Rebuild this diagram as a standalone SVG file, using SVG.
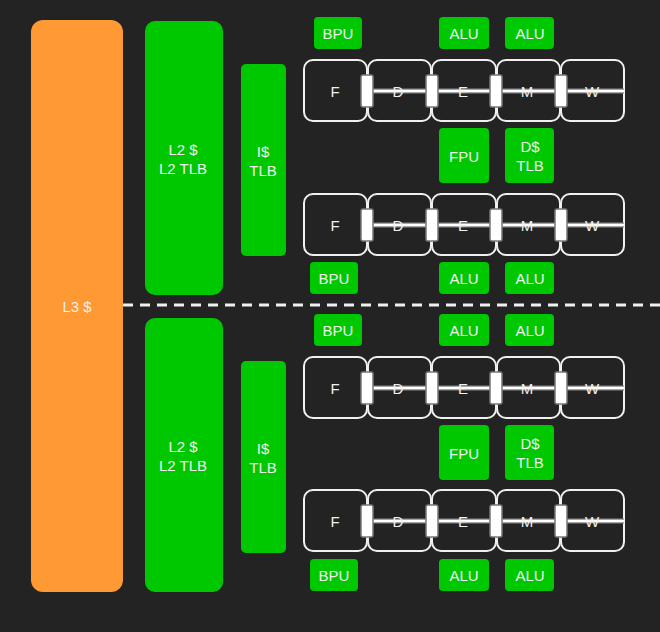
<svg xmlns="http://www.w3.org/2000/svg" width="660" height="632" viewBox="0 0 660 632">
<style>
text{font-family:"Liberation Sans",Arial,sans-serif;font-size:15px;fill:#f0f0f0;text-anchor:middle;dominant-baseline:central}
.g{fill:#00c800}
.cell{fill:none;stroke:#f0f0f0;stroke-width:2}
.latch{fill:#fff;stroke:#777;stroke-width:1.5}
.bus{stroke:#888;stroke-width:5}
.bus2{stroke:#fff;stroke-width:2.5}
</style>
<defs>
<g id="pipe">
<rect class="cell" x="304" y="0" width="63" height="61" rx="9"/>
<rect class="cell" x="368" y="0" width="63" height="61" rx="9"/>
<rect class="cell" x="432" y="0" width="64" height="61" rx="9"/>
<rect class="cell" x="497" y="0" width="63" height="61" rx="9"/>
<rect class="cell" x="561" y="0" width="63" height="61" rx="9"/>
<line class="bus" x1="366" y1="31" x2="624" y2="31"/>
<line class="bus2" x1="366" y1="31" x2="624" y2="31"/>
<text x="335" y="31">F</text><text x="398" y="31">D</text><text x="463" y="31">E</text><text x="527" y="31">M</text><text x="592" y="31">W</text>
<rect class="latch" x="361" y="15" width="12" height="32" rx="2"/>
<rect class="latch" x="426" y="15" width="12" height="32" rx="2"/>
<rect class="latch" x="490" y="15" width="12" height="32" rx="2"/>
<rect class="latch" x="555" y="15" width="12" height="32" rx="2"/>
</g>
</defs>
<rect width="660" height="632" fill="#232323"/>
<g id="L3"><rect x="31" y="20" width="92" height="572" rx="12" fill="#ff9933"/><text x="77" y="306">L3 $</text></g>
<g id="connectors"><line x1="123" y1="305" x2="660" y2="305" stroke="#f0f0f0" stroke-width="3" stroke-dasharray="10,7"/></g>
<g id="core1">
<g id="L2a"><rect class="g" x="145" y="21" width="78" height="274" rx="10"/><text x="183" y="149">L2 $</text><text x="183" y="168">L2 TLB</text></g>
<g id="Ia"><rect class="g" x="241" y="64" width="45" height="192" rx="5"/><text x="263" y="151">I$</text><text x="263" y="170">TLB</text></g>
<g id="bpu1"><rect class="g" x="314" y="17" width="48" height="32" rx="4"/><text x="338" y="33">BPU</text></g>
<g id="alu1"><rect class="g" x="439" y="17" width="50" height="32" rx="4"/><text x="464" y="33">ALU</text></g>
<g id="alu2"><rect class="g" x="505" y="17" width="49" height="32" rx="4"/><text x="530" y="33">ALU</text></g>
<g id="pipe1"><use href="#pipe" y="60"/></g>
<g id="fpu1"><rect class="g" x="439" y="128" width="50" height="55" rx="4"/><text x="464" y="156">FPU</text></g>
<g id="dtlb1"><rect class="g" x="505" y="128" width="49" height="55" rx="4"/><text x="530" y="146">D$</text><text x="530" y="165">TLB</text></g>
<g id="pipe2"><use href="#pipe" y="194"/></g>
<g id="bpu2"><rect class="g" x="310" y="262" width="48" height="32" rx="4"/><text x="334" y="278">BPU</text></g>
<g id="alu3"><rect class="g" x="439" y="262" width="50" height="32" rx="4"/><text x="464" y="278">ALU</text></g>
<g id="alu4"><rect class="g" x="505" y="262" width="49" height="32" rx="4"/><text x="530" y="278">ALU</text></g>
</g>
<g id="core2">
<g id="L2b"><rect class="g" x="145" y="318" width="78" height="274" rx="10"/><text x="183" y="446">L2 $</text><text x="183" y="465">L2 TLB</text></g>
<g id="Ib"><rect class="g" x="241" y="361" width="45" height="192" rx="5"/><text x="263" y="448">I$</text><text x="263" y="467">TLB</text></g>
<g id="bpu3"><rect class="g" x="314" y="314" width="48" height="32" rx="4"/><text x="338" y="330">BPU</text></g>
<g id="alu5"><rect class="g" x="439" y="314" width="50" height="32" rx="4"/><text x="464" y="330">ALU</text></g>
<g id="alu6"><rect class="g" x="505" y="314" width="49" height="32" rx="4"/><text x="530" y="330">ALU</text></g>
<g id="pipe3"><use href="#pipe" y="357"/></g>
<g id="fpu2"><rect class="g" x="439" y="425" width="50" height="55" rx="4"/><text x="464" y="453">FPU</text></g>
<g id="dtlb2"><rect class="g" x="505" y="425" width="49" height="55" rx="4"/><text x="530" y="443">D$</text><text x="530" y="462">TLB</text></g>
<g id="pipe4"><use href="#pipe" y="490"/></g>
<g id="bpu4"><rect class="g" x="310" y="559" width="48" height="32" rx="4"/><text x="334" y="575">BPU</text></g>
<g id="alu7"><rect class="g" x="439" y="559" width="50" height="32" rx="4"/><text x="464" y="575">ALU</text></g>
<g id="alu8"><rect class="g" x="505" y="559" width="49" height="32" rx="4"/><text x="530" y="575">ALU</text></g>
</g>
</svg>
